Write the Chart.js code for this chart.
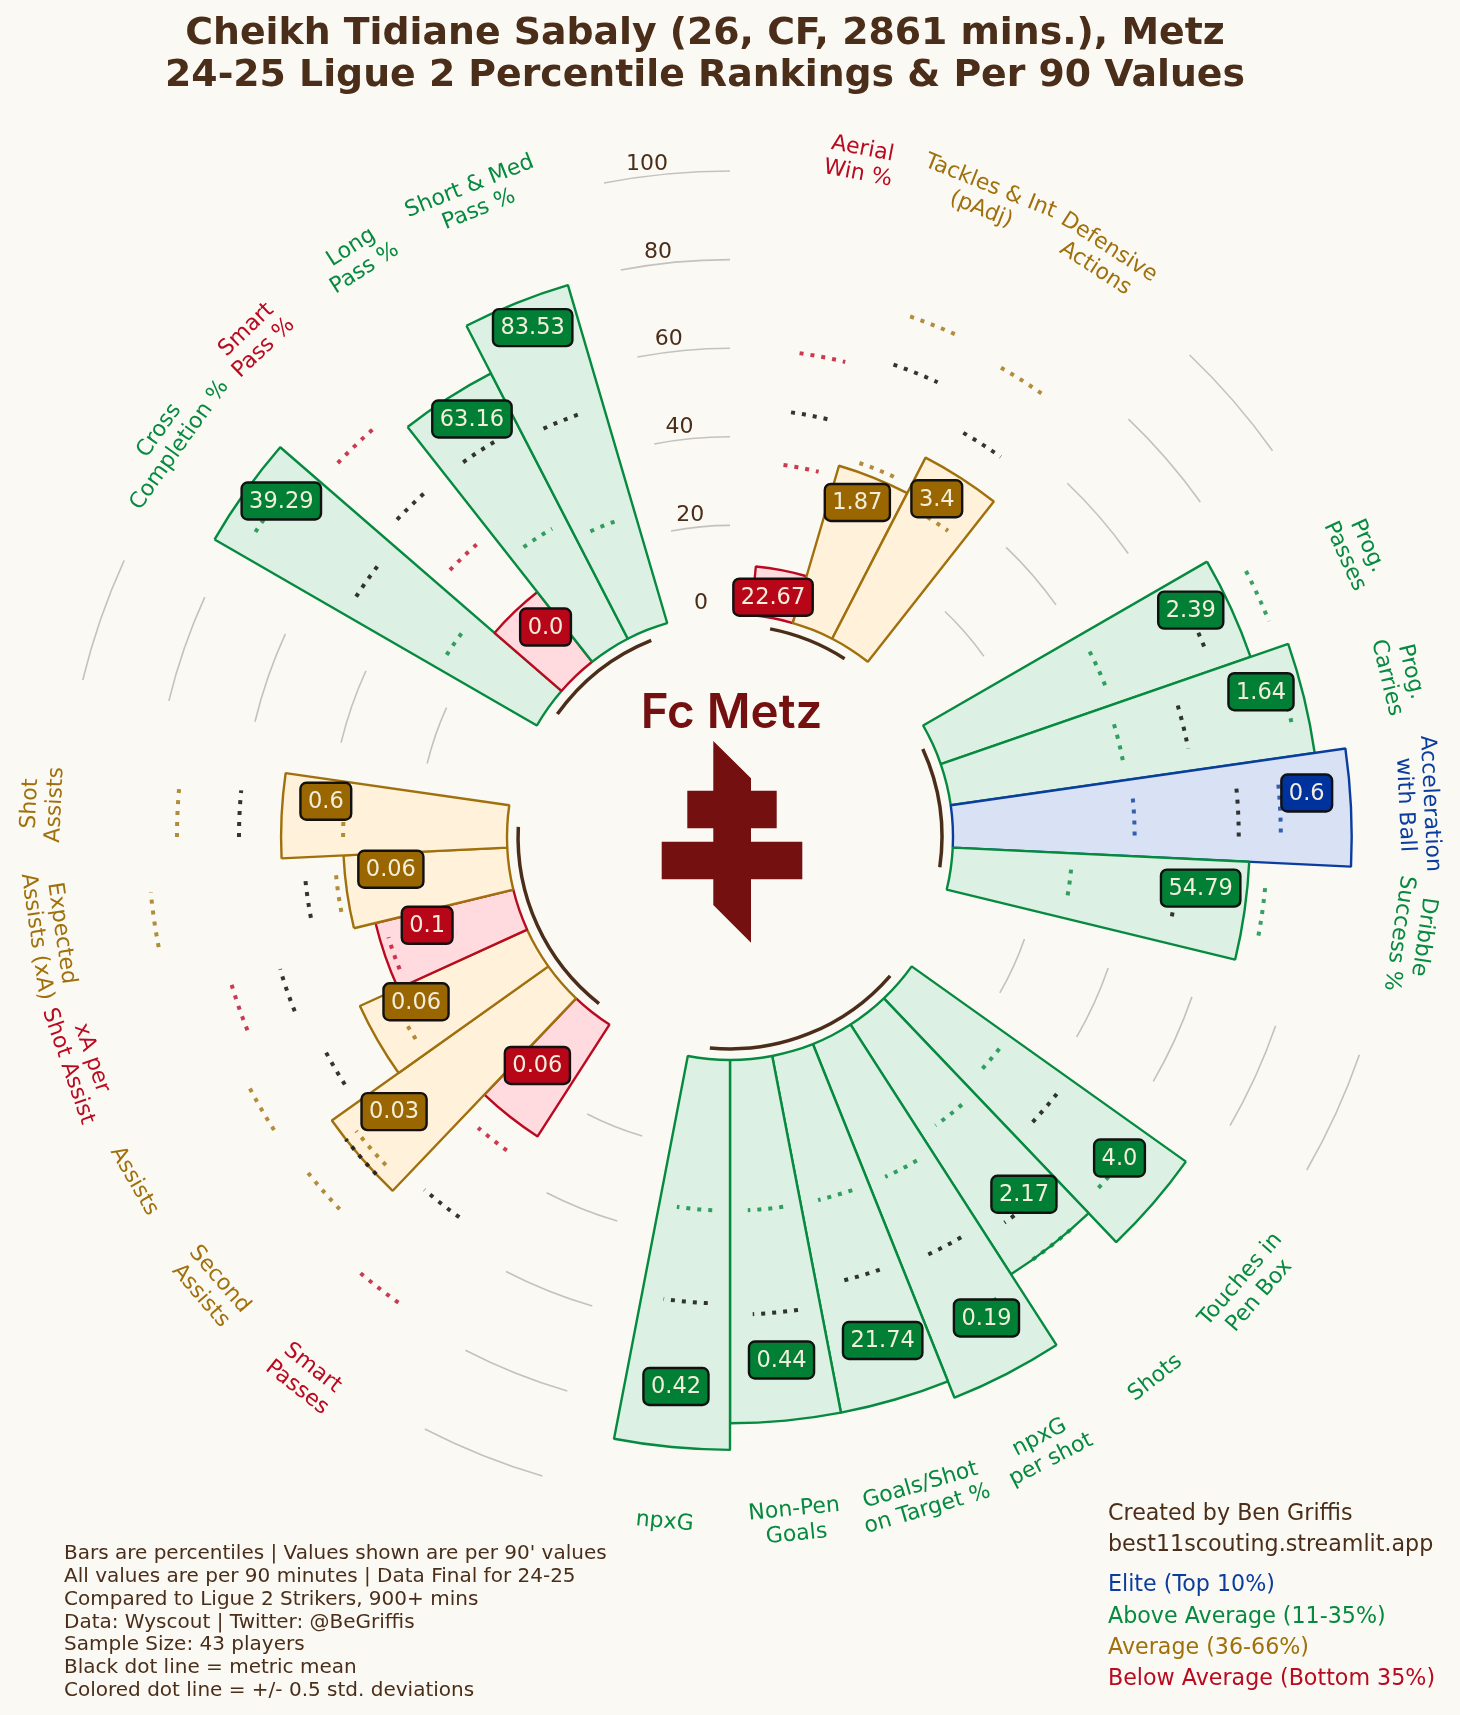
<!DOCTYPE html>
<html>
<head>
<meta charset="utf-8">
<title>Pizza chart</title>
<script src="https://cdn.jsdelivr.net/npm/chart.js@4"></script>
<style>
    html, body { margin: 0; padding: 0; background: #fbf9f4; }
    canvas { display: block; }
</style>
</head>
<body>
<canvas id="chart-canvas" width="1460" height="1715"></canvas>
<script>
// one slot per bar going clockwise from Aerial Win %, null slots are the gaps between sections
const categories = ["Aerial\nWin %", "Tackles & Int\n(pAdj)", "Defensive\nActions", "", "",
    "Prog.\nPasses", "Prog.\nCarries", "Acceleration\nwith Ball", "Dribble\nSuccess %", "", "",
    "Touches in\nPen Box", "Shots", "npxG\nper shot", "Goals/Shot\non Target %", "Non-Pen\nGoals", "npxG", "", "",
    "Smart\nPasses", "Second\nAssists", "Assists", "xA per\nShot Assist", "Expected\nAssists (xA)", "Shot\nAssists", "", "",
    "Cross\nCompletion %", "Smart\nPass %", "Long\nPass %", "Short & Med\nPass %", "", ""];
const percentiles = [11, 37, 46, null, null,
    74, 83, 90, 67, null, null,
    76, 67, 86, 82, 82, 88, null, null,
    30, 60, 41.5, 32, 37, 51, null, null,
    84, 20, 67.4, 79.5, null, null];
const per90Labels = ["22.67", "1.87", "3.4", "", "",
    "2.39", "1.64", "0.6", "54.79", "", "",
    "4.0", "2.17", "0.19", "21.74", "0.44", "0.42", "", "",
    "0.06", "0.03", "0.06", "0.1", "0.06", "0.6", "", "",
    "39.29", "0.0", "63.16", "83.53", "", ""];
const metricMean = [46.5, 62.5, 55, null, null,
    65, 55, 64.5, 51, null, null,
    43.5, 56.5, 54, 53, 57.5, 55, null, null,
    55, 60, 53, 55.5, 46, 60.5, null, null,
    50, 53.5, 53.5, 51, null, null];
const metricLow = [34.5, 39, 34.5, null, null,
    41, 40, 41, 27, null, null,
    27, 29.6, 34, 34, 34, 34, null, null,
    36.5, 57, 34, 30, 39, 37, null, null,
    25.7, 37, 30, 25.5, null, null];
const metricHigh = [60, 74, 72, null, null,
    80.7, 79, 74, 71, null, null,
    64.5, 67, 70, 66, 68, 73, null, null,
    78.7, 71.4, 72, 67, 81, 74.5, null, null,
    77, 72, 61, 73, null, null];
const radialTicks = [0, 20, 40, 60, 80, 100];
const titleLines = ["Cheikh Tidiane Sabaly (26, CF, 2861 mins.), Metz", "24-25 Ligue 2 Percentile Rankings & Per 90 Values"];
const footnotes = ["Bars are percentiles | Values shown are per 90' values", "All values are per 90 minutes | Data Final for 24-25",
    "Compared to Ligue 2 Strikers, 900+ mins", "Data: Wyscout | Twitter: @BeGriffis", "Sample Size: 43 players",
    "Black dot line = metric mean", "Colored dot line = +/- 0.5 std. deviations"];
const creditLines = ["Created by Ben Griffis", "best11scouting.streamlit.app"];
const tierNames = ["Elite (Top 10%)", "Above Average (11-35%)", "Average (36-66%)", "Below Average (Bottom 35%)"];

const FONT = '"DejaVu Sans"';
const BROWN = "#4a2e19";
const GREY = "#c4c2be";
// text/edge, fill, value box, dotted line
const TIERS = [
    { edge: "#0b3d9e", fill: "#d9e2f5", box: "#00329e", dot: "rgba(11,61,158,0.8)" },
    { edge: "#068a3f", fill: "#dcf0e3", box: "#007f35", dot: "rgba(6,138,63,0.8)" },
    { edge: "#a0700c", fill: "#fff1da", box: "#996600", dot: "rgba(160,112,12,0.8)" },
    { edge: "#b90a20", fill: "#ffdade", box: "#b80619", dot: "rgba(190,10,40,0.8)" }
];

function tierOf(pct) {
    if (pct >= 90) return TIERS[0];
    if (pct >= 65) return TIERS[1];
    if (pct >= 35) return TIERS[2];
    return TIERS[3];
}

const slotTiers = percentiles.map(p => p === null ? TIERS[1] : tierOf(p));

// Logo shape, page pixels
const LOGO_CROSS = [[713.3, 741], [751, 778.3], [751, 790.7], [776.7, 790.7], [776.7, 828.3], [751, 828.3], [751, 841.7],
    [802.3, 841.7], [802.3, 879.3], [751, 879.3], [751, 942.7], [713.3, 905], [713.3, 879.3], [661.7, 879.3], [661.7, 841.7],
    [713.3, 841.7], [713.3, 828.3], [687.3, 828.3], [687.3, 790.7], [713.3, 790.7]];

function polarXY(scale, value, angle) {
    const r = scale.getDistanceFromCenterForValue(value);
    return [scale.xCenter + r * Math.cos(angle), scale.yCenter + r * Math.sin(angle)];
}

function arcPath(ctx, scale, value, a0, a1) {
    ctx.beginPath();
    ctx.arc(scale.xCenter, scale.yCenter, scale.getDistanceFromCenterForValue(value), a0, a1);
    ctx.stroke();
}

function drawLines(ctx, lines, x, y, lineHeight) {
    lines.forEach((line, i) => ctx.fillText(line, x, y + i * lineHeight));
}

function roundedBox(ctx, x, y, w, h, r) {
    ctx.beginPath();
    ctx.roundRect(x, y, w, h, r);
    ctx.fill();
    ctx.stroke();
}

const pizzaPlugin = {
    id: "pizza",
    afterDatasetsUpdate(chart) {
        // polarArea always starts slices at the centre, push them out to 0 on the scale
        const base = chart.scales.r.getDistanceFromCenterForValue(0);
        chart.getDatasetMeta(0).data.forEach(arc => { arc.innerRadius = base; });
    },
    afterDatasetsDraw(chart) {
        const ctx = chart.ctx;
        const scale = chart.scales.r;
        const arcs = chart.getDatasetMeta(0).data;
        const mid = i => (arcs[i].startAngle + arcs[i].endAngle) / 2;
        const half = (arcs[0].endAngle - arcs[0].startAngle) / 2;
        ctx.save();

        // grid arcs, only in the gaps
        ctx.strokeStyle = GREY;
        ctx.lineWidth = 1.6;
        percentiles.forEach((p, i) => {
            if (p !== null || percentiles[i + 1] !== null || i + 1 >= percentiles.length) return;
            radialTicks.slice(1).forEach(t => arcPath(ctx, scale, t, mid(i), mid(i + 1)));
        });

        // section arcs
        ctx.strokeStyle = BROWN;
        ctx.lineWidth = 3.5;
        let first = null;
        percentiles.forEach((p, i) => {
            if (p !== null && first === null) first = i;
            if (p === null && first !== null) {
                arcPath(ctx, scale, -2.5, mid(first), mid(i - 1));
                first = null;
            }
        });

        // mean and +/- 0.5 std dotted lines
        ctx.lineWidth = 4;
        ctx.setLineDash([4, 7]);
        percentiles.forEach((p, i) => {
            if (p === null) return;
            const a0 = mid(i) - half / 2;
            const a1 = mid(i) + half / 2;
            ctx.strokeStyle = slotTiers[i].dot;
            arcPath(ctx, scale, metricLow[i], a0, a1);
            arcPath(ctx, scale, metricHigh[i], a0, a1);
            ctx.strokeStyle = "rgba(30,30,30,0.9)";
            arcPath(ctx, scale, metricMean[i], a0, a1);
        });
        ctx.setLineDash([]);

        ctx.textAlign = "center";
        ctx.textBaseline = "middle";

        // value boxes
        ctx.font = "22.5px " + FONT;
        percentiles.forEach((p, i) => {
            if (p === null) return;
            const [x, y0] = polarXY(scale, p - 10, mid(i));
            const y = y0 - 16.5;
            const w = ctx.measureText(per90Labels[i]).width + 15;
            ctx.fillStyle = slotTiers[i].box;
            ctx.strokeStyle = "#111111";
            ctx.lineWidth = 2.4;
            roundedBox(ctx, x - w / 2, y - 18.5, w, 37, 6);
            ctx.fillStyle = "#f3eedc";
            ctx.fillText(per90Labels[i], x, y + 1);
        });

        // radial tick labels
        ctx.fillStyle = BROWN;
        ctx.font = "22px " + FONT;
        const tickAngle = -97 * Math.PI / 180;
        radialTicks.forEach(t => {
            const [x, y] = polarXY(scale, t + 3.2, tickAngle);
            ctx.fillText(String(t), x, y + 2);
        });

        // category labels, rotated with the slot
        ctx.font = "22px " + FONT;
        categories.forEach((label, i) => {
            if (!label) return;
            const a = mid(i);
            const [x, y] = polarXY(scale, 105, a);
            let deg = a * 180 / Math.PI;
            while (deg > 180) deg -= 360;
            while (deg < -180) deg += 360;
            // screen angle: positive is clockwise from east
            const rot = (deg < 30 && deg > -180) ? deg + 90 : deg - 90;
            const lines = label.split("\n");
            ctx.save();
            ctx.translate(x, y);
            ctx.rotate(rot * Math.PI / 180);
            ctx.fillStyle = slotTiers[i].edge;
            drawLines(ctx, lines, 0, -(lines.length - 1) * 12.5, 25);
            ctx.restore();
        });

        // title
        ctx.fillStyle = BROWN;
        ctx.font = "bold 37.8px " + FONT;
        drawLines(ctx, titleLines, 705, 34.5, 41.5);

        // notes
        ctx.textAlign = "left";
        ctx.font = "20px " + FONT;
        drawLines(ctx, footnotes, 64, 1554, 22.8);
        ctx.font = "22.2px " + FONT;
        drawLines(ctx, creditLines, 1108, 1514, 31);
        tierNames.forEach((name, i) => {
            ctx.fillStyle = TIERS[i].edge;
            ctx.fillText(name, 1108, 1585.5 + i * 31.3);
        });

        // club logo
        ctx.fillStyle = "#741010";
        ctx.filter = "blur(0.7px)";
        ctx.beginPath();
        LOGO_CROSS.forEach(([x, y], i) => i ? ctx.lineTo(x, y) : ctx.moveTo(x, y));
        ctx.closePath();
        ctx.fill();
        ctx.textAlign = "center";
        ctx.textBaseline = "alphabetic";
        ctx.font = "600 47.5px Inter";
        ctx.fillText("Fc Metz", 731.5, 728);
        ctx.filter = "none";

        ctx.restore();
    }
};

new Chart(document.getElementById("chart-canvas").getContext("2d"), {
    type: "polarArea",
    data: {
        labels: categories,
        datasets: [{
            data: percentiles,
            backgroundColor: slotTiers.map(t => t.fill),
            borderColor: slotTiers.map(t => t.edge),
            borderWidth: 2.4
        }]
    },
    options: {
        responsive: false,
        animation: false,
        layout: { padding: { left: 64, right: 64, top: 171, bottom: 212 } },
        plugins: { legend: { display: false }, tooltip: { enabled: false }, title: { display: false } },
        scales: {
            r: {
                min: -50.34,
                max: 100,
                startAngle: 5.4545,
                grid: { display: false },
                ticks: { display: false },
                angleLines: { display: false },
                pointLabels: { display: false }
            }
        }
    },
    plugins: [pizzaPlugin]
});
</script>
</body>
</html>
